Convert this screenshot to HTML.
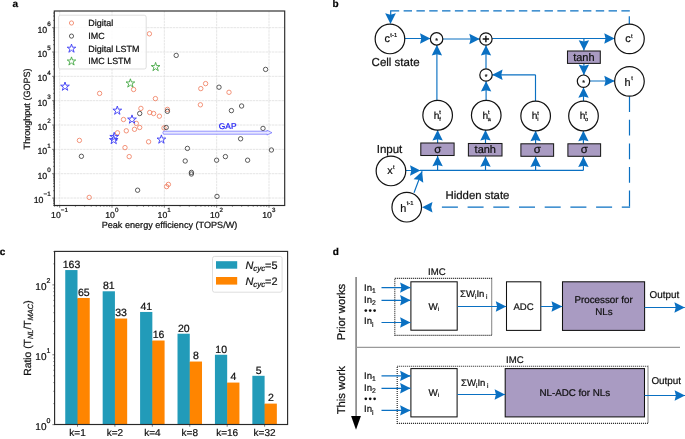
<!DOCTYPE html>
<html><head><meta charset="utf-8"><style>
html,body{margin:0;padding:0;background:#fff;}
svg{display:block;will-change:transform;text-rendering:geometricPrecision;}
text{stroke:#111;stroke-width:0.22px;}
</style></head><body>
<svg width="685" height="439" viewBox="0 0 685 439">
<rect width="685" height="439" fill="#fff"/>
<text x="12.6" y="7" font-family="Liberation Sans, sans-serif" font-size="10" font-weight="bold">a</text>
<path d="M59.68 11V205.5 M112.01 11V205.5 M164.34 11V205.5 M216.67 11V205.5 M269.00 11V205.5 M54.3 198.04H284.7 M54.3 173.70H284.7 M54.3 149.36H284.7 M54.3 125.02H284.7 M54.3 100.68H284.7 M54.3 76.34H284.7 M54.3 52.00H284.7 M54.3 27.66H284.7" stroke="#dedede" stroke-width="0.8" stroke-dasharray="2.5,0.7" fill="none"/>
<g fill="none" stroke-width="0.8"><circle cx="149.4" cy="33.8" r="2.2" stroke="#f07a5a"/><circle cx="133.6" cy="89.5" r="2.2" stroke="#f07a5a"/><circle cx="99.6" cy="93.4" r="2.2" stroke="#f07a5a"/><circle cx="155.4" cy="98.6" r="2.2" stroke="#f07a5a"/><circle cx="229" cy="92.3" r="2.2" stroke="#f07a5a"/><circle cx="205.6" cy="83.6" r="2.2" stroke="#f07a5a"/><circle cx="200.8" cy="88.6" r="2.2" stroke="#f07a5a"/><circle cx="200.4" cy="104.8" r="2.2" stroke="#f07a5a"/><circle cx="140.9" cy="108.4" r="2.2" stroke="#f07a5a"/><circle cx="149.7" cy="112.5" r="2.2" stroke="#f07a5a"/><circle cx="153.6" cy="113.5" r="2.2" stroke="#f07a5a"/><circle cx="159.4" cy="116.2" r="2.2" stroke="#f07a5a"/><circle cx="167.4" cy="109.4" r="2.2" stroke="#f07a5a"/><circle cx="123.5" cy="119.5" r="2.2" stroke="#f07a5a"/><circle cx="136.3" cy="123.4" r="2.2" stroke="#f07a5a"/><circle cx="139.7" cy="127.5" r="2.2" stroke="#f07a5a"/><circle cx="134.5" cy="129.3" r="2.2" stroke="#f07a5a"/><circle cx="126.3" cy="130.8" r="2.2" stroke="#f07a5a"/><circle cx="117.5" cy="132.8" r="2.2" stroke="#f07a5a"/><circle cx="164" cy="127.9" r="2.2" stroke="#f07a5a"/><circle cx="79.4" cy="140.4" r="2.2" stroke="#f07a5a"/><circle cx="148.6" cy="141.8" r="2.2" stroke="#f07a5a"/><circle cx="125" cy="147.6" r="2.2" stroke="#f07a5a"/><circle cx="129.2" cy="156.6" r="2.2" stroke="#f07a5a"/><circle cx="89.2" cy="197.4" r="2.2" stroke="#f07a5a"/><circle cx="168.4" cy="184.4" r="2.2" stroke="#f07a5a"/><circle cx="166.6" cy="186.6" r="2.2" stroke="#f07a5a"/><circle cx="176.2" cy="55.4" r="2.2" stroke="#333"/><circle cx="265.6" cy="69.4" r="2.2" stroke="#333"/><circle cx="219" cy="87.2" r="2.2" stroke="#333"/><circle cx="139.7" cy="113.5" r="2.2" stroke="#333"/><circle cx="167.4" cy="111.3" r="2.2" stroke="#333"/><circle cx="166.2" cy="127.5" r="2.2" stroke="#333"/><circle cx="241.6" cy="106" r="2.2" stroke="#333"/><circle cx="231.4" cy="110.6" r="2.2" stroke="#333"/><circle cx="263" cy="128.4" r="2.2" stroke="#333"/><circle cx="240.6" cy="138.8" r="2.2" stroke="#333"/><circle cx="187.4" cy="148.4" r="2.2" stroke="#333"/><circle cx="271.4" cy="150" r="2.2" stroke="#333"/><circle cx="185.2" cy="161" r="2.2" stroke="#333"/><circle cx="216.6" cy="160.2" r="2.2" stroke="#333"/><circle cx="225.4" cy="156.6" r="2.2" stroke="#333"/><circle cx="247.6" cy="160.2" r="2.2" stroke="#333"/><circle cx="191.4" cy="172.4" r="2.2" stroke="#333"/><circle cx="191.4" cy="174" r="2.2" stroke="#333"/><circle cx="81.4" cy="156.3" r="2.2" stroke="#333"/><circle cx="137.6" cy="190.2" r="2.2" stroke="#333"/><circle cx="217" cy="196.4" r="2.2" stroke="#333"/></g>
<path d="M65.00,82.00 L66.03,85.18 L69.37,85.18 L66.67,87.14 L67.70,90.32 L65.00,88.36 L62.30,90.32 L63.33,87.14 L60.63,85.18 L63.97,85.18ZM117.30,106.00 L118.33,109.18 L121.67,109.18 L118.97,111.14 L120.00,114.32 L117.30,112.36 L114.60,114.32 L115.63,111.14 L112.93,109.18 L116.27,109.18ZM132.00,114.90 L133.03,118.08 L136.37,118.08 L133.67,120.04 L134.70,123.22 L132.00,121.26 L129.30,123.22 L130.33,120.04 L127.63,118.08 L130.97,118.08ZM114.20,132.30 L115.23,135.48 L118.57,135.48 L115.87,137.44 L116.90,140.62 L114.20,138.66 L111.50,140.62 L112.53,137.44 L109.83,135.48 L113.17,135.48ZM113.70,135.40 L114.73,138.58 L118.07,138.58 L115.37,140.54 L116.40,143.72 L113.70,141.76 L111.00,143.72 L112.03,140.54 L109.33,138.58 L112.67,138.58ZM161.40,134.90 L162.43,138.08 L165.77,138.08 L163.07,140.04 L164.10,143.22 L161.40,141.26 L158.70,143.22 L159.73,140.04 L157.03,138.08 L160.37,138.08Z" fill="none" stroke="#3a3af5" stroke-width="0.9"/>
<path d="M155.60,62.40 L156.63,65.58 L159.97,65.58 L157.27,67.54 L158.30,70.72 L155.60,68.76 L152.90,70.72 L153.93,67.54 L151.23,65.58 L154.57,65.58ZM130.40,78.80 L131.43,81.98 L134.77,81.98 L132.07,83.94 L133.10,87.12 L130.40,85.16 L127.70,87.12 L128.73,83.94 L126.03,81.98 L129.37,81.98Z" fill="none" stroke="#45a845" stroke-width="0.9"/>
<path d="M163.5 131.2H267.2L266.9 130.2L272 132.7L266.9 135L267.2 134.2H163.5Q162.2 132.7 163.5 131.2Z" fill="#e8e8ff" stroke="#6a6aff" stroke-width="0.7"/>
<text x="227.7" y="129.3" font-family="Liberation Sans, sans-serif" font-size="8.4" fill="#1c1cf4" style="stroke:#1c1cf4" text-anchor="middle">GAP</text>
<rect x="54.3" y="11" width="230.39999999999998" height="194.5" fill="none" stroke="#2a2a2a" stroke-width="1.15"/>
<path d="M59.68 205.5v2.2 M112.01 205.5v2.2 M164.34 205.5v2.2 M216.67 205.5v2.2 M269.00 205.5v2.2 M54.61 205.5v1.2 M57.29 205.5v1.2 M75.43 205.5v1.2 M84.65 205.5v1.2 M91.19 205.5v1.2 M96.26 205.5v1.2 M100.40 205.5v1.2 M103.90 205.5v1.2 M106.94 205.5v1.2 M109.62 205.5v1.2 M127.76 205.5v1.2 M136.98 205.5v1.2 M143.52 205.5v1.2 M148.59 205.5v1.2 M152.73 205.5v1.2 M156.23 205.5v1.2 M159.27 205.5v1.2 M161.95 205.5v1.2 M180.09 205.5v1.2 M189.31 205.5v1.2 M195.85 205.5v1.2 M200.92 205.5v1.2 M205.06 205.5v1.2 M208.56 205.5v1.2 M211.60 205.5v1.2 M214.28 205.5v1.2 M232.42 205.5v1.2 M241.64 205.5v1.2 M248.18 205.5v1.2 M253.25 205.5v1.2 M257.39 205.5v1.2 M260.89 205.5v1.2 M263.93 205.5v1.2 M266.61 205.5v1.2 M54.3 198.04h-2.2 M54.3 173.70h-2.2 M54.3 149.36h-2.2 M54.3 125.02h-2.2 M54.3 100.68h-2.2 M54.3 76.34h-2.2 M54.3 52.00h-2.2 M54.3 27.66h-2.2 M54.3 205.37h-1.2 M54.3 203.44h-1.2 M54.3 201.81h-1.2 M54.3 200.40h-1.2 M54.3 199.15h-1.2 M54.3 190.71h-1.2 M54.3 186.43h-1.2 M54.3 183.39h-1.2 M54.3 181.03h-1.2 M54.3 179.10h-1.2 M54.3 177.47h-1.2 M54.3 176.06h-1.2 M54.3 174.81h-1.2 M54.3 166.37h-1.2 M54.3 162.09h-1.2 M54.3 159.05h-1.2 M54.3 156.69h-1.2 M54.3 154.76h-1.2 M54.3 153.13h-1.2 M54.3 151.72h-1.2 M54.3 150.47h-1.2 M54.3 142.03h-1.2 M54.3 137.75h-1.2 M54.3 134.71h-1.2 M54.3 132.35h-1.2 M54.3 130.42h-1.2 M54.3 128.79h-1.2 M54.3 127.38h-1.2 M54.3 126.13h-1.2 M54.3 117.69h-1.2 M54.3 113.41h-1.2 M54.3 110.37h-1.2 M54.3 108.01h-1.2 M54.3 106.08h-1.2 M54.3 104.45h-1.2 M54.3 103.04h-1.2 M54.3 101.79h-1.2 M54.3 93.35h-1.2 M54.3 89.07h-1.2 M54.3 86.03h-1.2 M54.3 83.67h-1.2 M54.3 81.74h-1.2 M54.3 80.11h-1.2 M54.3 78.70h-1.2 M54.3 77.45h-1.2 M54.3 69.01h-1.2 M54.3 64.73h-1.2 M54.3 61.69h-1.2 M54.3 59.33h-1.2 M54.3 57.40h-1.2 M54.3 55.77h-1.2 M54.3 54.36h-1.2 M54.3 53.11h-1.2 M54.3 44.67h-1.2 M54.3 40.39h-1.2 M54.3 37.35h-1.2 M54.3 34.99h-1.2 M54.3 33.06h-1.2 M54.3 31.43h-1.2 M54.3 30.02h-1.2 M54.3 28.77h-1.2 M54.3 20.33h-1.2 M54.3 16.05h-1.2 M54.3 13.01h-1.2" stroke="#222" stroke-width="0.6"/>
<g fill="#111"><text x="59.48" y="217.6" font-family="Liberation Sans, sans-serif" font-size="8.7" text-anchor="middle">10<tspan font-size="6.2" dy="-6.10">−1</tspan></text><text x="111.81" y="217.6" font-family="Liberation Sans, sans-serif" font-size="8.7" text-anchor="middle">10<tspan font-size="6.2" dy="-6.10">0</tspan></text><text x="164.14" y="217.6" font-family="Liberation Sans, sans-serif" font-size="8.7" text-anchor="middle">10<tspan font-size="6.2" dy="-6.10">1</tspan></text><text x="216.47" y="217.6" font-family="Liberation Sans, sans-serif" font-size="8.7" text-anchor="middle">10<tspan font-size="6.2" dy="-6.10">2</tspan></text><text x="268.80" y="217.6" font-family="Liberation Sans, sans-serif" font-size="8.7" text-anchor="middle">10<tspan font-size="6.2" dy="-6.10">3</tspan></text><text x="50.7" y="203.14" font-family="Liberation Sans, sans-serif" font-size="8.8" text-anchor="end">10<tspan font-size="6.3" dy="-6.80">−1</tspan></text><text x="50.7" y="178.80" font-family="Liberation Sans, sans-serif" font-size="8.8" text-anchor="end">10<tspan font-size="6.3" dy="-6.80">0</tspan></text><text x="50.7" y="154.46" font-family="Liberation Sans, sans-serif" font-size="8.8" text-anchor="end">10<tspan font-size="6.3" dy="-6.80">1</tspan></text><text x="50.7" y="130.12" font-family="Liberation Sans, sans-serif" font-size="8.8" text-anchor="end">10<tspan font-size="6.3" dy="-6.80">2</tspan></text><text x="50.7" y="105.78" font-family="Liberation Sans, sans-serif" font-size="8.8" text-anchor="end">10<tspan font-size="6.3" dy="-6.80">3</tspan></text><text x="50.7" y="81.44" font-family="Liberation Sans, sans-serif" font-size="8.8" text-anchor="end">10<tspan font-size="6.3" dy="-6.80">4</tspan></text><text x="50.7" y="57.10" font-family="Liberation Sans, sans-serif" font-size="8.8" text-anchor="end">10<tspan font-size="6.3" dy="-6.80">5</tspan></text><text x="50.7" y="32.76" font-family="Liberation Sans, sans-serif" font-size="8.8" text-anchor="end">10<tspan font-size="6.3" dy="-6.80">6</tspan></text></g>
<text x="169.5" y="228.4" font-family="Liberation Sans, sans-serif" font-size="9.1" text-anchor="middle" fill="#111">Peak energy efficiency (TOPS/W)</text>
<text transform="translate(30.2 108.9) rotate(-90)" font-family="Liberation Sans, sans-serif" font-size="9.05" text-anchor="middle" fill="#111">Throughput (GOPS)</text>
<rect x="58.6" y="15.2" width="87.6" height="53.8" rx="2" fill="#fff" fill-opacity="0.85" stroke="#d0d0d0" stroke-width="0.7"/>
<circle cx="71.5" cy="23" r="2.1" fill="none" stroke="#f07a5a" stroke-width="0.8"/>
<circle cx="71.5" cy="36.1" r="2.1" fill="none" stroke="#333" stroke-width="0.8"/>
<path d="M71.50,44.10 L72.51,47.21 L75.78,47.21 L73.13,49.13 L74.15,52.24 L71.50,50.32 L68.85,52.24 L69.87,49.13 L67.22,47.21 L70.49,47.21Z" fill="none" stroke="#3a3af5" stroke-width="0.9"/>
<path d="M71.50,56.90 L72.51,60.01 L75.78,60.01 L73.13,61.93 L74.15,65.04 L71.50,63.12 L68.85,65.04 L69.87,61.93 L67.22,60.01 L70.49,60.01Z" fill="none" stroke="#45a845" stroke-width="0.9"/>
<g fill="#111"><text x="88.3" y="25.9" font-family="Liberation Sans, sans-serif" font-size="8.95">Digital</text><text x="88.3" y="38.6" font-family="Liberation Sans, sans-serif" font-size="8.95">IMC</text><text x="88.3" y="51.6" font-family="Liberation Sans, sans-serif" font-size="8.95">Digital LSTM</text><text x="88.3" y="64.3" font-family="Liberation Sans, sans-serif" font-size="8.95">IMC LSTM</text></g>
<text x="-0.3" y="254.5" font-family="Liberation Sans, sans-serif" font-size="10" font-weight="bold">c</text>
<rect x="65.25" y="270.06" width="12.25" height="154.44" fill="#229bb9"/><rect x="77.00" y="298.56" width="1" height="125.94" fill="#229bb9"/><rect x="77.50" y="297.96" width="12.25" height="126.54" fill="#ff8500"/><rect x="102.67" y="291.29" width="12.25" height="133.21" fill="#229bb9"/><rect x="114.42" y="319.14" width="1" height="105.36" fill="#229bb9"/><rect x="114.92" y="318.54" width="12.25" height="105.96" fill="#ff8500"/><rect x="140.09" y="311.95" width="12.25" height="112.55" fill="#229bb9"/><rect x="151.84" y="341.11" width="1" height="83.39" fill="#229bb9"/><rect x="152.34" y="340.51" width="12.25" height="83.99" fill="#ff8500"/><rect x="177.51" y="333.73" width="12.25" height="90.77" fill="#229bb9"/><rect x="189.26" y="362.14" width="1" height="62.36" fill="#229bb9"/><rect x="189.76" y="361.54" width="12.25" height="62.96" fill="#ff8500"/><rect x="214.93" y="354.77" width="12.25" height="69.73" fill="#229bb9"/><rect x="226.68" y="383.18" width="1" height="41.32" fill="#229bb9"/><rect x="227.18" y="382.58" width="12.25" height="41.92" fill="#ff8500"/><rect x="252.35" y="375.81" width="12.25" height="48.69" fill="#229bb9"/><rect x="264.10" y="404.21" width="1" height="20.29" fill="#229bb9"/><rect x="264.60" y="403.61" width="12.25" height="20.89" fill="#ff8500"/>
<g font-family="Liberation Sans, sans-serif" font-size="10" fill="#111"><text x="71.47" y="267.86" text-anchor="middle" font-size="10.5">163</text><text x="83.72" y="295.76" text-anchor="middle" font-size="10.5">65</text><text x="77.50" y="436.1" text-anchor="middle">k=1</text><text x="108.89" y="289.09" text-anchor="middle" font-size="10.5">81</text><text x="121.14" y="316.34" text-anchor="middle" font-size="10.5">33</text><text x="114.92" y="436.1" text-anchor="middle">k=2</text><text x="146.31" y="309.75" text-anchor="middle" font-size="10.5">41</text><text x="158.56" y="338.31" text-anchor="middle" font-size="10.5">16</text><text x="152.34" y="436.1" text-anchor="middle">k=4</text><text x="183.73" y="331.53" text-anchor="middle" font-size="10.5">20</text><text x="195.98" y="359.34" text-anchor="middle" font-size="10.5">8</text><text x="189.76" y="436.1" text-anchor="middle">k=8</text><text x="221.16" y="352.57" text-anchor="middle" font-size="10.5">10</text><text x="233.41" y="380.38" text-anchor="middle" font-size="10.5">4</text><text x="227.18" y="436.1" text-anchor="middle">k=16</text><text x="258.58" y="373.61" text-anchor="middle" font-size="10.5">5</text><text x="270.83" y="401.41" text-anchor="middle" font-size="10.5">2</text><text x="264.60" y="436.1" text-anchor="middle">k=32</text></g>
<rect x="54.6" y="251.4" width="233.00000000000003" height="173.1" fill="none" stroke="#2a2a2a" stroke-width="1.15"/>
<path d="M54.6 424.65h-2.2 M54.6 354.77h-2.2 M54.6 284.89h-2.2 M54.6 403.61h-1.2 M54.6 391.31h-1.2 M54.6 382.58h-1.2 M54.6 375.81h-1.2 M54.6 370.27h-1.2 M54.6 365.59h-1.2 M54.6 361.54h-1.2 M54.6 357.97h-1.2 M54.6 333.73h-1.2 M54.6 321.43h-1.2 M54.6 312.70h-1.2 M54.6 305.93h-1.2 M54.6 300.39h-1.2 M54.6 295.71h-1.2 M54.6 291.66h-1.2 M54.6 288.09h-1.2 M54.6 263.85h-1.2 M54.6 251.55h-1.2 M77.50 424.5v2.2 M114.92 424.5v2.2 M152.34 424.5v2.2 M189.76 424.5v2.2 M227.18 424.5v2.2 M264.60 424.5v2.2" stroke="#222" stroke-width="0.6"/>
<g fill="#111"><text x="50.4" y="430.05" font-family="Liberation Sans, sans-serif" font-size="10" text-anchor="end">10<tspan font-size="7" dy="-7.00">0</tspan></text><text x="50.4" y="360.17" font-family="Liberation Sans, sans-serif" font-size="10" text-anchor="end">10<tspan font-size="7" dy="-7.00">1</tspan></text><text x="50.4" y="290.29" font-family="Liberation Sans, sans-serif" font-size="10" text-anchor="end">10<tspan font-size="7" dy="-7.00">2</tspan></text></g>
<text transform="translate(30.6 338) rotate(-90)" font-family="Liberation Sans, sans-serif" font-size="10.3" text-anchor="middle" fill="#111">Ratio (T<tspan font-size="7.5" font-style="italic" dy="2">NL</tspan><tspan dy="-2">/T</tspan><tspan font-size="7.5" font-style="italic" dy="2">MAC</tspan><tspan dy="-2">)</tspan></text>
<rect x="212.5" y="256.4" width="69.6" height="35.8" rx="2" fill="#fff" stroke="#d0d0d0" stroke-width="0.7"/>
<rect x="216" y="261.2" width="21.2" height="7.5" fill="#229bb9"/>
<rect x="216" y="277" width="21.2" height="7.6" fill="#ff8500"/>
<text x="245.4" y="269" font-family="Liberation Sans, sans-serif" font-size="10.9" fill="#111"><tspan font-style="italic">N</tspan><tspan font-style="italic" font-size="7.9" dy="2.1">cyc</tspan><tspan dy="-2.1">=5</tspan></text>
<text x="245.4" y="284.8" font-family="Liberation Sans, sans-serif" font-size="10.9" fill="#111"><tspan font-style="italic">N</tspan><tspan font-style="italic" font-size="7.9" dy="2.1">cyc</tspan><tspan dy="-2.1">=2</tspan></text>
<text x="332.6" y="7" font-family="Liberation Sans, sans-serif" font-size="10" font-weight="bold">b</text>
<path d="M404.75 38.50L430.40 38.50M442.80 39.00L479.70 39.00M492.10 38.50L614.65 38.50M583.90 38.50L583.90 50.60M583.90 63.40L583.90 75.00M589.70 81.00L614.65 81.00M583.50 101.20L583.50 87.40M486.10 100.45L486.10 81.20M486.00 68.80L486.00 45.20M436.90 100.45L436.90 45.10M535.5 101.20V74.8M535.50 74.80L492.20 74.80M405.75 170.50L420.40 170.50M414.00 192.70L422.10 171.30M420 170.3H583.5M437.60 170.30L437.60 155.90M485.50 170.30L485.50 156.40M535.60 170.30L535.60 156.70M583.40 170.30L583.40 156.70M437.60 143.00L437.60 130.05M485.50 143.50L485.50 130.05M535.60 143.80L535.60 130.80M583.40 143.80L583.40 130.80" stroke="#0a70c2" stroke-width="1.15" fill="none"/>
<path d="M430.40,38.50 L420.00,33.30 L421.30,38.50 L420.00,43.70Z" fill="#0a70c2"/><path d="M479.70,39.00 L469.30,33.80 L470.60,39.00 L469.30,44.20Z" fill="#0a70c2"/><path d="M614.65,38.50 L604.25,33.30 L605.55,38.50 L604.25,43.70Z" fill="#0a70c2"/><path d="M583.90,50.60 L589.10,40.20 L583.90,41.50 L578.70,40.20Z" fill="#0a70c2"/><path d="M583.90,75.00 L589.10,64.60 L583.90,65.90 L578.70,64.60Z" fill="#0a70c2"/><path d="M614.65,81.00 L604.25,75.80 L605.55,81.00 L604.25,86.20Z" fill="#0a70c2"/><path d="M583.50,87.40 L578.30,97.80 L583.50,96.50 L588.70,97.80Z" fill="#0a70c2"/><path d="M486.10,81.20 L480.90,91.60 L486.10,90.30 L491.30,91.60Z" fill="#0a70c2"/><path d="M486.00,45.20 L480.80,55.60 L486.00,54.30 L491.20,55.60Z" fill="#0a70c2"/><path d="M436.90,45.10 L431.70,55.50 L436.90,54.20 L442.10,55.50Z" fill="#0a70c2"/><path d="M492.20,74.80 L502.60,80.00 L501.30,74.80 L502.60,69.60Z" fill="#0a70c2"/><path d="M420.40,170.50 L410.00,165.30 L411.30,170.50 L410.00,175.70Z" fill="#0a70c2"/><path d="M422.10,171.30 L413.56,179.19 L418.88,179.81 L423.28,182.87Z" fill="#0a70c2"/><path d="M437.60,155.90 L432.40,166.30 L437.60,165.00 L442.80,166.30Z" fill="#0a70c2"/><path d="M485.50,156.40 L480.30,166.80 L485.50,165.50 L490.70,166.80Z" fill="#0a70c2"/><path d="M535.60,156.70 L530.40,167.10 L535.60,165.80 L540.80,167.10Z" fill="#0a70c2"/><path d="M583.40,156.70 L578.20,167.10 L583.40,165.80 L588.60,167.10Z" fill="#0a70c2"/><path d="M437.60,130.05 L432.40,140.45 L437.60,139.15 L442.80,140.45Z" fill="#0a70c2"/><path d="M485.50,130.05 L480.30,140.45 L485.50,139.15 L490.70,140.45Z" fill="#0a70c2"/><path d="M535.60,130.80 L530.40,141.20 L535.60,139.90 L540.80,141.20Z" fill="#0a70c2"/><path d="M583.40,130.80 L578.20,141.20 L583.40,139.90 L588.60,141.20Z" fill="#0a70c2"/>
<path d="M629.8 10.95H399.2" stroke="#0a70c2" stroke-width="1.2" fill="none" stroke-dasharray="8.4,4.41"/>
<path d="M399.2 10.95H390.7V15M629.3 16.2V24" stroke="#0a70c2" stroke-width="1.2" fill="none"/>
<path d="M390.50,23.90 L395.85,13.20 L390.50,14.70 L385.15,13.20Z" fill="#0a70c2"/>
<path d="M629.5 96.2V207.2" stroke="#0a70c2" stroke-width="1.2" fill="none" stroke-dasharray="15.8,7.8"/>
<path d="M630.1 207.2H441.5" stroke="#0a70c2" stroke-width="1.2" fill="none" stroke-dasharray="16,9.7" stroke-dashoffset="7.7"/>
<path d="M422.10,207.20 L432.50,212.40 L431.20,207.20 L432.50,202.00Z" fill="#0a70c2"/>
<rect x="567.5" y="51" width="32.80" height="12.40" fill="#a99bc2" stroke="#1a1a1a" stroke-width="1.05"/>
<rect x="420.8" y="143" width="33.30" height="12.50" fill="#a99bc2" stroke="#1a1a1a" stroke-width="1.05"/>
<rect x="468.4" y="143.5" width="33.60" height="12.50" fill="#a99bc2" stroke="#1a1a1a" stroke-width="1.05"/>
<rect x="520.9" y="143.8" width="32.70" height="12.50" fill="#a99bc2" stroke="#1a1a1a" stroke-width="1.05"/>
<rect x="567.9" y="143.8" width="32.70" height="12.50" fill="#a99bc2" stroke="#1a1a1a" stroke-width="1.05"/>
<g fill="#fff" stroke="#111" stroke-width="1.2"><circle cx="389.95" cy="38.95" r="14.8"/><circle cx="629.45" cy="38.85" r="14.8"/><circle cx="629.45" cy="81.35" r="14.8"/><circle cx="437.65" cy="115.25" r="14.8"/><circle cx="486.25" cy="115.25" r="14.8"/><circle cx="535.65" cy="116" r="14.8"/><circle cx="583.5" cy="116" r="14.8"/><circle cx="390.95" cy="170.95" r="14.8"/><circle cx="406.75" cy="207.2" r="14.8"/><circle cx="436.6" cy="38.9" r="6.2"/><circle cx="485.9" cy="39" r="6.2"/><circle cx="486" cy="75" r="6.2"/><circle cx="583.5" cy="81.2" r="6.2"/></g>
<g font-family="Liberation Sans, sans-serif" fill="#111"><text x="436.6" y="42.8" font-size="7" text-anchor="middle">*</text><text x="486" y="78.9" font-size="7" text-anchor="middle">*</text><text x="583.5" y="85.10000000000001" font-size="7" text-anchor="middle">*</text><path d="M482.7 39H489.09999999999997M485.9 35.8V42.2" stroke="#111" stroke-width="1.4"/></g>
<g font-family="Liberation Sans, sans-serif" fill="#111"><text x="384.5" y="42.4" font-size="10.9">c<tspan font-size="5.8" dy="-5.5" dx="0.4">t-1</tspan></text><text x="625.2" y="42.3" font-size="10.9">c<tspan font-size="5.8" dy="-4.8" dx="0.4">t</tspan></text><text x="624.5" y="86" font-size="10.9">h<tspan font-size="5.8" dy="-6.5" dx="0.6">t</tspan></text><text x="433.85" y="118.65" font-size="10.2" stroke="#111" stroke-width="0.25">h<tspan font-size="5.6" dy="-4.3" dx="-0.2">t</tspan><tspan font-size="5.6" dy="6.2" dx="-1.7">f</tspan></text><text x="482.45" y="118.65" font-size="10.2" stroke="#111" stroke-width="0.25">h<tspan font-size="5.6" dy="-4.3" dx="-0.2">t</tspan><tspan font-size="5.6" dy="6.2" dx="-1.7">a</tspan></text><text x="531.85" y="119.40" font-size="10.2" stroke="#111" stroke-width="0.25">h<tspan font-size="5.6" dy="-4.3" dx="-0.2">t</tspan><tspan font-size="5.6" dy="6.2" dx="-1.7">i</tspan></text><text x="579.70" y="119.40" font-size="10.2" stroke="#111" stroke-width="0.25">h<tspan font-size="5.6" dy="-4.3" dx="-0.2">t</tspan><tspan font-size="5.6" dy="6.2" dx="-1.7">o</tspan></text><text x="387.2" y="173.9" font-size="10.9">x<tspan font-size="5.8" dy="-5.2" dx="0.4">t</tspan></text><text x="400.2" y="212" font-size="10.9">h<tspan font-size="5.8" dy="-7" dx="0.4">t-1</tspan></text><text x="371.6" y="66.4" font-size="11.5">Cell state</text><text x="376.7" y="153.2" font-size="11.5">Input</text><text x="445.5" y="199" font-size="11.4">Hidden state</text><text x="583.9" y="60.5" font-size="11" text-anchor="middle">tanh</text><text x="485.3" y="153" font-size="11" text-anchor="middle">tanh</text><text x="437.9" y="152.6" font-size="11.5" text-anchor="middle">σ</text><text x="537.2" y="153.4" font-size="11.5" text-anchor="middle">σ</text><text x="584.2" y="153.4" font-size="11.5" text-anchor="middle">σ</text></g>
<text x="332.8" y="254.6" font-family="Liberation Sans, sans-serif" font-size="10" font-weight="bold">d</text>
<path d="M356.1 277V417" stroke="#8a8a8a" stroke-width="1.7" fill="none"/>
<path d="M356.1 347.4H680" stroke="#9a9a9a" stroke-width="1.3" fill="none"/>
<path d="M351.1 416H360.9L356 429.8Z" fill="#000"/>
<text transform="translate(345.3 312) rotate(-90)" font-family="Liberation Sans, sans-serif" font-size="11.3" text-anchor="middle" fill="#111">Prior works</text>
<text transform="translate(345.3 390.2) rotate(-90)" font-family="Liberation Sans, sans-serif" font-size="11.3" text-anchor="middle" fill="#111">This work</text>
<rect x="394.8" y="278.4" width="96.9" height="57" fill="none" stroke="#1a1a1a" stroke-width="1.1" stroke-dasharray="1,1"/>
<rect x="397.2" y="366.3" width="250.8" height="57.1" fill="none" stroke="#1a1a1a" stroke-width="1.1" stroke-dasharray="1,1"/>
<rect x="410.9" y="281.8" width="46.30" height="48.40" fill="#fff" stroke="#111" stroke-width="1.05"/>
<rect x="506.5" y="281.8" width="34.30" height="48.60" fill="#fff" stroke="#111" stroke-width="1.05"/>
<rect x="562.5" y="281.8" width="82.10" height="48.60" fill="#a99bc2" stroke="#111" stroke-width="1.05"/>
<rect x="410.9" y="368.6" width="46.20" height="48.30" fill="#fff" stroke="#111" stroke-width="1.05"/>
<rect x="505.2" y="368.6" width="139.30" height="48.30" fill="#a99bc2" stroke="#111" stroke-width="1.05"/>
<path d="M381.50 287.60L410.50 287.60M381.50 300.30L410.50 300.30M381.50 322.50L410.50 322.50M381.50 375.90L410.50 375.90M381.50 388.30L410.50 388.30M381.50 410.40L410.50 410.40M457.60 306.50L506.20 306.50M540.80 306.50L562.30 306.50M644.60 307.50L684.80 307.50M457.40 394.50L505.00 394.50M644.60 395.50L685.00 395.50" stroke="#0a70c2" stroke-width="1.15" fill="none"/>
<path d="M410.50,287.60 L400.10,282.40 L401.40,287.60 L400.10,292.80Z" fill="#0a70c2"/><path d="M410.50,300.30 L400.10,295.10 L401.40,300.30 L400.10,305.50Z" fill="#0a70c2"/><path d="M410.50,322.50 L400.10,317.30 L401.40,322.50 L400.10,327.70Z" fill="#0a70c2"/><path d="M410.50,375.90 L400.10,370.70 L401.40,375.90 L400.10,381.10Z" fill="#0a70c2"/><path d="M410.50,388.30 L400.10,383.10 L401.40,388.30 L400.10,393.50Z" fill="#0a70c2"/><path d="M410.50,410.40 L400.10,405.20 L401.40,410.40 L400.10,415.60Z" fill="#0a70c2"/><path d="M506.20,306.50 L495.80,301.30 L497.10,306.50 L495.80,311.70Z" fill="#0a70c2"/><path d="M562.30,306.50 L551.50,301.20 L552.80,306.50 L551.50,311.80Z" fill="#0a70c2"/><path d="M684.80,307.50 L674.40,302.30 L675.70,307.50 L674.40,312.70Z" fill="#0a70c2"/><path d="M505.00,394.50 L494.60,389.30 L495.90,394.50 L494.60,399.70Z" fill="#0a70c2"/><path d="M685.00,395.50 L674.60,390.30 L675.90,395.50 L674.60,400.70Z" fill="#0a70c2"/>
<g font-family="Liberation Sans, sans-serif" fill="#111"><text x="364" y="291.0" font-size="9.6">In<tspan font-size="6.8" dy="2.2">1</tspan></text><text x="364" y="303.2" font-size="9.6">In<tspan font-size="6.8" dy="2.2">2</tspan></text><text x="364" y="324.4" font-size="9.6">In<tspan font-size="6.8" dy="2.2">i</tspan></text><text x="364" y="379.2" font-size="9.6">In<tspan font-size="6.8" dy="2.2">1</tspan></text><text x="364" y="391.2" font-size="9.6">In<tspan font-size="6.8" dy="2.2">2</tspan></text><text x="364" y="412.3" font-size="9.6">In<tspan font-size="6.8" dy="2.2">i</tspan></text><circle cx="365.8" cy="310.6" r="1.35" fill="#111"/><circle cx="370.2" cy="310.6" r="1.35" fill="#111"/><circle cx="374.6" cy="310.6" r="1.35" fill="#111"/><circle cx="365.8" cy="398.8" r="1.35" fill="#111"/><circle cx="370.2" cy="398.8" r="1.35" fill="#111"/><circle cx="374.6" cy="398.8" r="1.35" fill="#111"/><text x="428" y="275.4" font-size="9.6">IMC</text><text x="506" y="363.4" font-size="9.6">IMC</text><text x="428.6" y="309.6" font-size="9.8">W<tspan font-size="5.6" dy="1.2">i</tspan></text><text x="428.6" y="395.8" font-size="9.8">W<tspan font-size="5.6" dy="1.2">i</tspan></text><text x="460" y="297.2" font-size="9.6">ΣW<tspan font-size="6.5" dy="2">i</tspan><tspan dy="-2">In</tspan><tspan font-size="6.5" dy="2" dx="1.5">i</tspan></text><text x="461" y="385.6" font-size="9.6">ΣW<tspan font-size="6.5" dy="2">i</tspan><tspan dy="-2">In</tspan><tspan font-size="6.5" dy="2" dx="1.5">i</tspan></text><text x="523.6" y="309.6" font-size="9.6" text-anchor="middle">ADC</text><text x="603.6" y="303.4" font-size="9.8" text-anchor="middle">Processor for</text><text x="603.9" y="315.4" font-size="9.8" text-anchor="middle">NLs</text><text x="649.6" y="297.6" font-size="9.9">Output</text><text x="651.4" y="384.2" font-size="9.9">Output</text><text x="574.8" y="395.6" font-size="9.8" text-anchor="middle">NL-ADC for NLs</text></g>
</svg>
</body></html>
